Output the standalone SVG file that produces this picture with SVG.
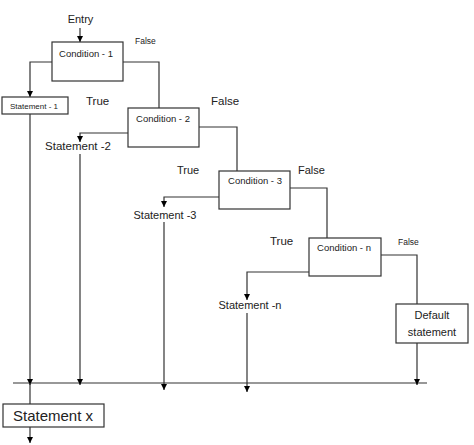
<svg xmlns="http://www.w3.org/2000/svg" width="474" height="445" viewBox="0 0 474 445">
<defs>
<marker id="ah" markerWidth="6" markerHeight="6" refX="6" refY="3" orient="auto" markerUnits="userSpaceOnUse">
<path d="M0,0 L6,3 L0,6 Z" fill="#000"/>
</marker>
<style>
.box{fill:#fff;stroke:#333;stroke-width:1.2}
.ln{fill:none;stroke:#333;stroke-width:1.2}
text{font-family:"Liberation Sans",Arial,sans-serif;fill:#222}
.s9{font-size:9.5px}
.s8{font-size:8px}
.s85{font-size:8.5px}
.s11{font-size:11px}
.s12{font-size:11.5px}
.s15{font-size:15px}
</style>
</defs>
<rect width="474" height="445" fill="#fff"/>
<g id="connectors">
<path class="ln" d="M80,28 L80,42" marker-end="url(#ah)"/>
<path class="ln" d="M52,62 L30,62 L30,97" marker-end="url(#ah)"/>
<path class="ln" d="M123,62 L159,62 L159,108"/>
<path class="ln" d="M128,133 L80,133 L80,142" marker-end="url(#ah)"/>
<path class="ln" d="M199,127 L237,127 L237,171"/>
<path class="ln" d="M219,197 L164,197 L164,207" marker-end="url(#ah)"/>
<path class="ln" d="M290,188 L327,188 L327,238"/>
<path class="ln" d="M309,272 L247,272 L247,300" marker-end="url(#ah)"/>
<path class="ln" d="M381,255 L417,255 L417,304"/>
<path class="ln" d="M13,383 L427,383"/>
<path class="ln" d="M30,114 L30,385" marker-end="url(#ah)"/>
<path class="ln" d="M30,383 L30,404"/>
<path class="ln" d="M80,154 L80,385" marker-end="url(#ah)"/>
<path class="ln" d="M164,222 L164,390" marker-end="url(#ah)"/>
<path class="ln" d="M247,313 L247,392" marker-end="url(#ah)"/>
<path class="ln" d="M417,343 L417,385" marker-end="url(#ah)"/>
<path class="ln" d="M30,427 L30,443" marker-end="url(#ah)"/>
</g>
<g id="entry"><text class="s11" x="80.5" y="23" text-anchor="middle">Entry</text></g>
<g id="cond1">
<rect class="box" x="52" y="42" width="71" height="39"/>
<text class="s9" x="86" y="57" text-anchor="middle">Condition - 1</text>
</g>
<g id="stmt1">
<rect class="box" x="2" y="97" width="66" height="17"/>
<text class="s8" x="34" y="109" text-anchor="middle">Statement - 1</text>
</g>
<g id="cond2">
<rect class="box" x="128" y="108" width="71" height="39"/>
<text class="s9" x="163" y="122" text-anchor="middle">Condition - 2</text>
</g>
<g id="stmt2"><text class="s12" x="78" y="150" text-anchor="middle">Statement -2</text></g>
<g id="cond3">
<rect class="box" x="219" y="171" width="71" height="38"/>
<text class="s9" x="255" y="184" text-anchor="middle">Condition - 3</text>
</g>
<g id="stmt3"><text class="s11" x="165" y="219" text-anchor="middle">Statement -3</text></g>
<g id="condn">
<rect class="box" x="309" y="238" width="72" height="38"/>
<text class="s9" x="344" y="251" text-anchor="middle">Condition - n</text>
</g>
<g id="stmtn"><text class="s11" x="250" y="309" text-anchor="middle">Statement -n</text></g>
<g id="default">
<rect class="box" x="396" y="304" width="72" height="39"/>
<text class="s11" x="432" y="319" text-anchor="middle">Default</text>
<text class="s11" x="432" y="336" text-anchor="middle">statement</text>
</g>
<g id="stmtx">
<rect class="box" x="3" y="404" width="101" height="23"/>
<text class="s15" x="53" y="421" text-anchor="middle">Statement x</text>
</g>
<g id="labels">
<text class="s85" x="135" y="44">False</text>
<text class="s12" x="86" y="105">True</text>
<text class="s12" x="211" y="105">False</text>
<text class="s11" x="177" y="174">True</text>
<text class="s11" x="298" y="174">False</text>
<text class="s12" x="270" y="245">True</text>
<text class="s85" x="398" y="245">False</text>
</g>
</svg>
